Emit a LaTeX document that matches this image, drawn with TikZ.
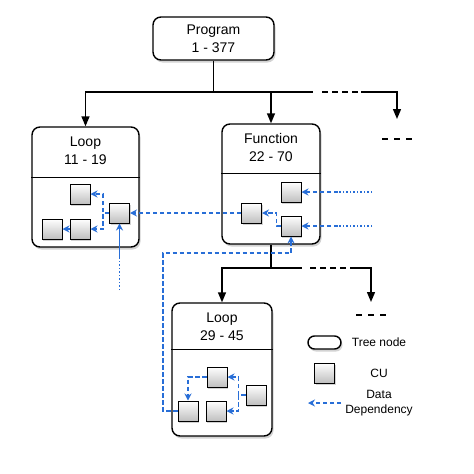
\documentclass[tikz,border=0pt]{standalone}
\usepackage{fontspec}
\setmainfont{Liberation Sans}
\usetikzlibrary{arrows.meta,shadows}

\definecolor{depblue}{RGB}{40,110,215}

\tikzset{
  treebox/.style={draw, line width=1.4pt, rounded corners=8pt, fill=white,
    drop shadow={shadow xshift=1.5pt, shadow yshift=-2.5pt, opacity=0.35}},
  title/.style={align=center, font=\fontsize{14}{18}\selectfont},
  cu/.style={draw, line width=1pt, minimum size=20pt, inner sep=0pt,
    top color=white, bottom color=gray!50,
    drop shadow={shadow xshift=1pt, shadow yshift=-1.5pt, opacity=0.35}},
  treeline/.style={line width=1.4pt},
  treearrow/.style={line width=1.4pt, -{Triangle[length=10pt,width=8pt]}},
  gap/.style={line width=1.4pt, dash pattern=on 6pt off 4pt},
  more/.style={line width=2.8pt, dash pattern=on 6pt off 6pt},
  dep/.style={depblue, line width=1.2pt, dash pattern=on 4.5pt off 2.5pt,
    -{Stealth[length=7pt,width=7pt]}},
  faint/.style={depblue, line width=1.2pt, dash pattern=on 1.2pt off 2.3pt},
  legend/.style={align=center, font=\fontsize{12}{15}\selectfont}
}

\begin{document}
\begin{tikzpicture}[x=1pt, y=-1pt]
  \useasboundingbox (0,0) rectangle (474,474);

  % tree nodes
  \node[treebox, minimum width=121pt, minimum height=43pt] (prog) at (213.5,38.5) {};
  \node[title] at (prog.center) {Program\\1 - 377};

  \node[treebox, minimum width=107pt, minimum height=120pt] (loopA) at (85.5,187) {};
  \node[title] (loopAt) at (85.5,150.5) {Loop\\11 - 19};
  \draw[line width=1pt] (loopA.west |- 0,177) -- (loopA.east |- 0,177);

  \node[treebox, minimum width=98pt, minimum height=120pt] (func) at (271,184) {};
  \node[title] (funct) at (271,147.5) {Function\\22 - 70};
  \draw[line width=1pt] (func.west |- 0,173) -- (func.east |- 0,173);

  \node[treebox, minimum width=100pt, minimum height=133pt] (loopB) at (222,369.5) {};
  \node[title] (loopBt) at (222,326.5) {Loop\\29 - 45};
  \draw[line width=1pt] (loopB.west |- 0,349) -- (loopB.east |- 0,349);

  % tree edges
  \coordinate (j1) at (213.5,92);
  \coordinate (j1a) at (313,92);
  \coordinate (j1b) at (361,92);
  \coordinate (j1c) at (397,119);
  \draw[treeline] (prog.south) -- (j1);
  \draw[treearrow] (j1) -| (loopA.north);
  \draw[treearrow] (j1) -| (func.north);
  \draw[treeline] (j1) -- (j1a);
  \draw[gap] (j1a) ++(9,0) -- (j1b);
  \draw[treearrow] (j1b) -| (j1c);
  \draw[more] (382,139) -- (414,139);

  \coordinate (j2) at (func.south |- 0,268);
  \coordinate (j2a) at (302,268);
  \coordinate (j2b) at (351,268);
  \coordinate (j2c) at (371,302);
  \draw[treeline] (func.south) -- (j2);
  \draw[treearrow] (j2) -| (loopB.north);
  \draw[treeline] (j2) -- (j2a);
  \draw[gap] (j2a) ++(8,0) -- (j2b);
  \draw[treearrow] (j2b) -| (j2c);
  \draw[more] (356,315) -- (388,315);

  % CUs
  \node[cu] (a1) at (80,194) {};
  \node[cu] (a2) at (52,229) {};
  \node[cu] (a3) at (80,229) {};
  \node[cu] (a4) at (119.5,213) {};

  \node[cu] (f1) at (291,192) {};
  \node[cu] (f2) at (251.5,213) {};
  \node[cu] (f3) at (291,226) {};

  \node[cu] (b1) at (217,377) {};
  \node[cu] (b2) at (188,411) {};
  \node[cu] (b3) at (216,411) {};
  \node[cu] (b4) at (256,395) {};

  % data dependencies
  \draw[dep] (a4.west) -- ++(-6,0) |- (a1.east);
  \draw[dep] (a4.west) -- ++(-6,0) |- (a3.east);
  \draw[dep] (a3.west) -- (a2.east);
  \draw[dep] (f2.west) -- (a4.east);
  \coordinate (inC) at (119.5,290);
  \coordinate (inCm) at (119.5,258);
  \draw[faint] (inC) -- (inCm);
  \draw[depblue, line width=1.2pt, -{Stealth[length=7pt,width=7pt]}] (inCm) -- (a4.south);

  \draw[dep] (f3.west) -- ++(-4,0) |- (f2.east);
  \coordinate (inA) at (372,192);
  \coordinate (inAm) at (338,192);
  \coordinate (inB) at (372,226);
  \coordinate (inBm) at (338,226);
  \draw[faint] (inA) -- (inAm);
  \draw[dep] (inAm) -- (f1.east);
  \draw[faint] (inB) -- (inBm);
  \draw[dep] (inBm) -- (f3.east);

  \draw[dep] (b4.west) -- ++(-7,0) |- (b1.east);
  \draw[dep] (b4.west) -- ++(-7,0) |- (b3.east);
  \draw[dep] (b1.west) -| (b2.north);
  \coordinate (bend) at (163,253);
  \draw[dep] (b2.west) -| (bend) -| (f3.south);

  % legend
  \node[treebox, minimum width=33pt, minimum height=13pt, inner sep=0pt,
    rounded corners=6.5pt] (keytree) at (324.5,342.5) {};
  \node[legend] (keytreet) at (379,342) {Tree node};
  \node[cu] (keycu) at (324.5,373) {};
  \node[legend] (keycut) at (379,373) {CU};
  \coordinate (keydepa) at (341,403);
  \coordinate (keydepb) at (308,403);
  \draw[dep] (keydepa) -- (keydepb);
  \node[legend] (keydept) at (379,403) {Data\\Dependency};
\end{tikzpicture}
\end{document}
